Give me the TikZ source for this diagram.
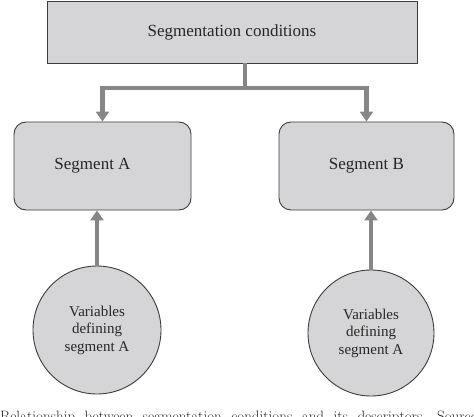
\documentclass[tikz,border=0pt]{standalone}
\usepackage{fontspec}
\newfontfamily\labelfont{Liberation Serif}
\usetikzlibrary{arrows.meta}
\begin{document}
\begin{tikzpicture}[x=1pt,y=-1pt,
  box/.style={draw=edgegray,fill=boxgray,line width=0.9pt,inner sep=0pt,text=inkgray,font=\labelfont\fontsize{17}{20}\selectfont},
  roundbox/.style={box,rounded corners=12pt,minimum width=176pt,minimum height=88pt},
  varcircle/.style={box,circle,minimum size=127pt,align=center,font=\labelfont\fontsize{15}{17.5}\selectfont},
  pipe/.style={draw=pipegray,line width=4.5pt},
  pipearrow/.style={pipe,-{Triangle[width=13pt,length=10pt]}}]
\useasboundingbox (0,0) rectangle (474,417);%
\clip (0,0) rectangle (474,417);%

% Changing colours
\definecolor{boxgray}{rgb}{0.835,0.835,0.843}%
\definecolor{edgegray}{rgb}{0.235,0.235,0.235}%
\definecolor{pipegray}{rgb}{0.525,0.525,0.525}%
\definecolor{inkgray}{rgb}{0.150,0.150,0.150}%

% Drawing box conditions
\node [box,minimum width=370pt,minimum height=62pt] (conditions) at (232,32) {Segmentation conditions};%

% Drawing boxes segA and segB
\node [roundbox,minimum width=177pt] (segA) at (102.5,166) {\hspace*{-20pt}Segment A};%
\node [roundbox,minimum width=175pt] (segB) at (366.5,166) {Segment B};%

% Drawing circles varA and varB
\node [varcircle,minimum size=128pt] (varA) at (97,330) {Variables\\defining\\segment A};%
\node [varcircle,minimum size=126pt] (varB) at (371,333) {Variables\\defining\\segment A};%

% Drawing the fork below conditions
\coordinate (fork) at (245,88);%
\draw [pipe] (fork |- conditions.south) -- (fork);%
\draw [pipearrow] (fork) -| (segA.north);%
\draw [pipearrow] (fork) -| (segB.north);%

% Drawing arrows up from the circles
\draw [pipearrow] (varA.north) -- (varA.north |- segA.south);%
\draw [pipearrow] (varB.north) -- (varB.north |- segB.south);%

% Marking the caption
\node [anchor=base west,inner sep=0pt,text=inkgray,font=\fontsize{15}{18}\selectfont] (caption) at (0,421.5) {\spaceskip=9.5pt plus 1pt Relationship between segmentation conditions and its descriptors. Source};%
\end{tikzpicture}
\end{document}
